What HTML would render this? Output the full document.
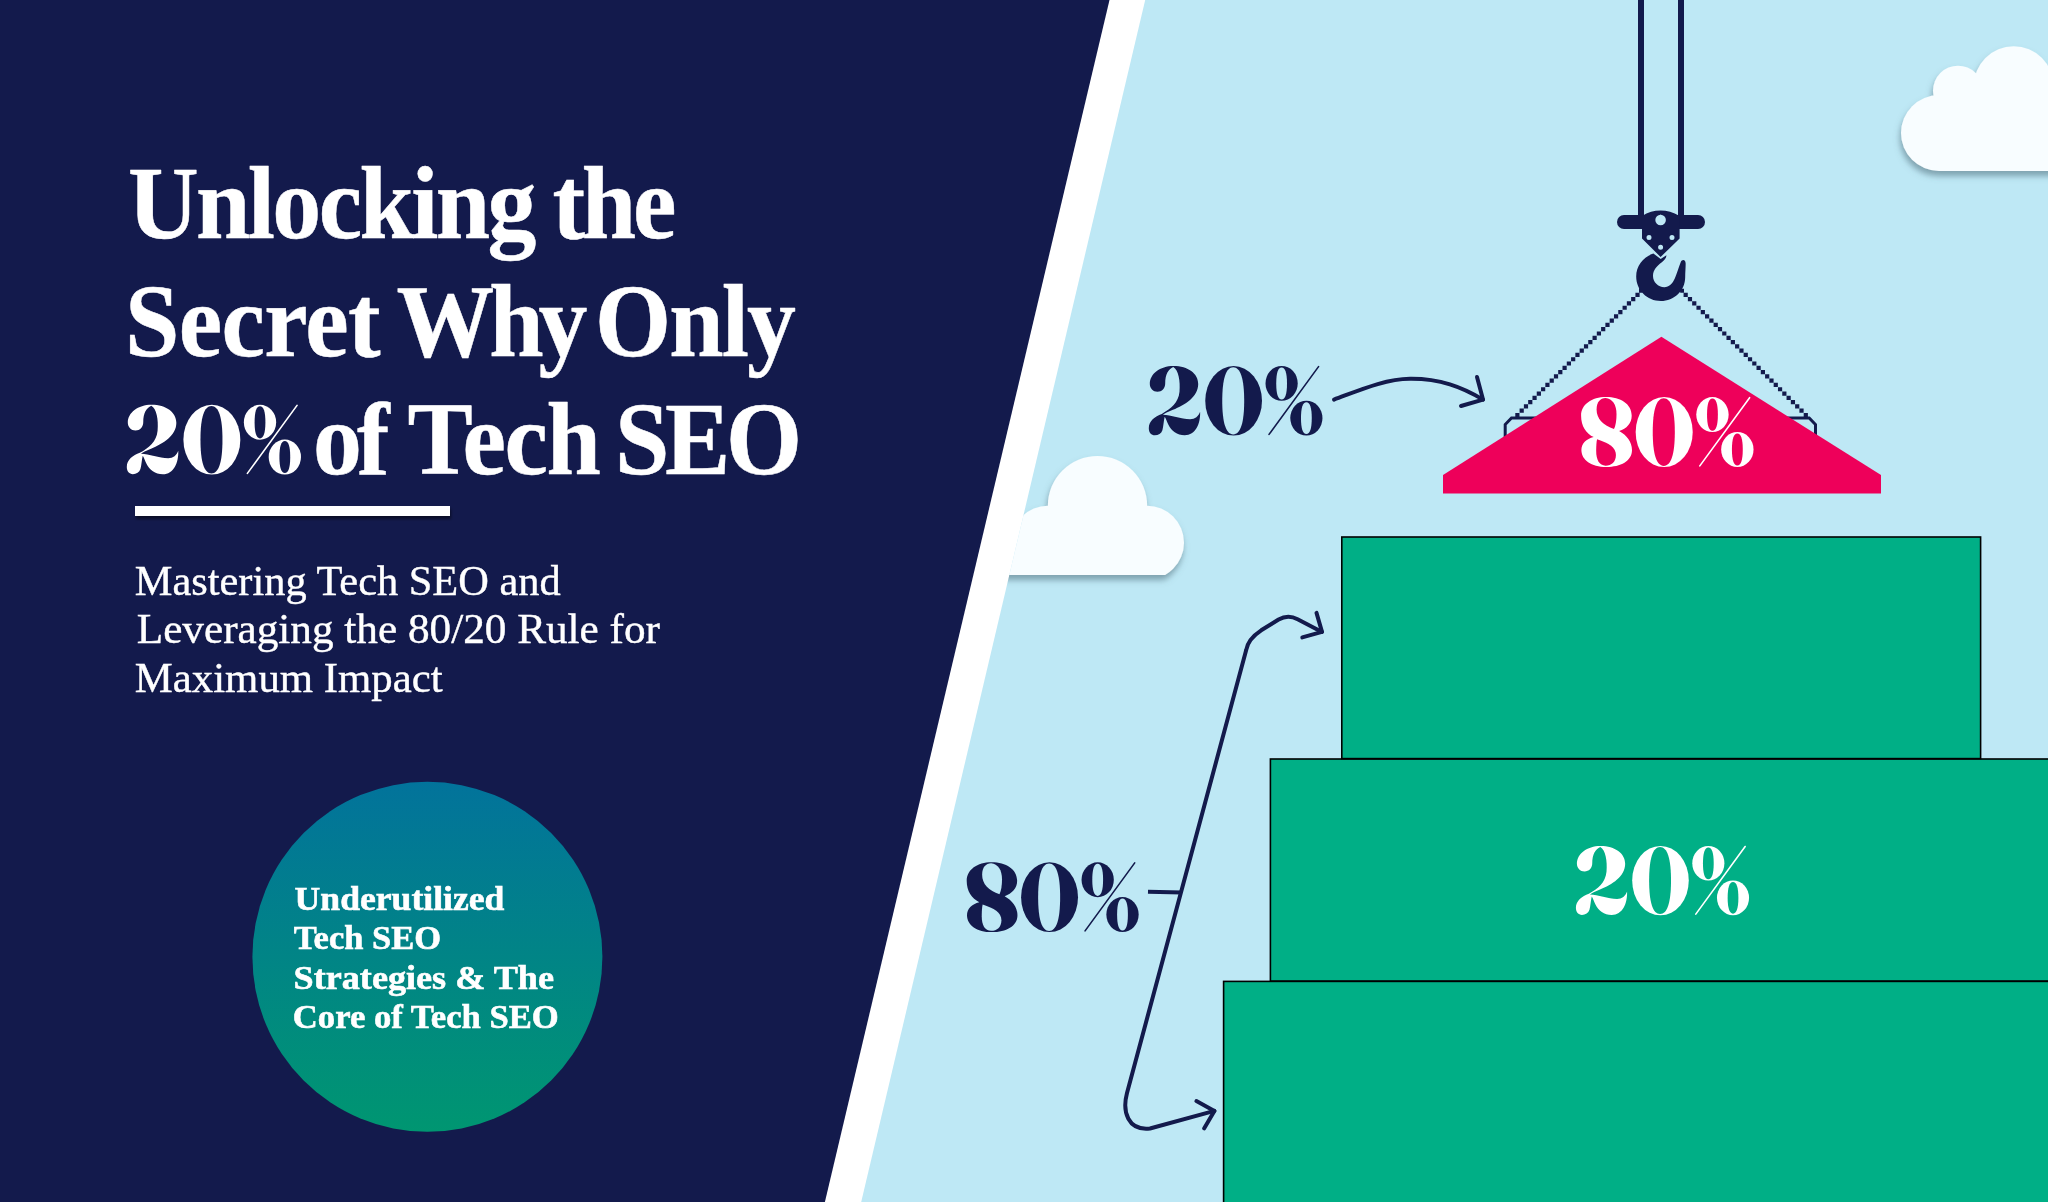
<!DOCTYPE html>
<html>
<head>
<meta charset="utf-8">
<style>
html,body{margin:0;padding:0;width:2048px;height:1202px;overflow:hidden;background:#131a4c;}
svg{display:block;position:absolute;left:0;top:0;will-change:transform;}
text{font-family:"Liberation Serif",serif;}
</style>
</head>
<body>
<svg width="2048" height="1202" viewBox="0 0 2048 1202">
  <defs>
    <linearGradient id="cg" x1="0" y1="0" x2="0" y2="1">
      <stop offset="0" stop-color="#02739b"/>
      <stop offset="1" stop-color="#009671"/>
    </linearGradient>
    <clipPath id="c1clip"><rect x="900" y="400" width="400" height="175"/></clipPath>
    <clipPath id="panel">
      <polygon points="1145.2,0 2048,0 2048,1202 861.2,1202"/>
    </clipPath>
    <filter id="csh" x="-20%" y="-20%" width="140%" height="150%">
      <feGaussianBlur in="SourceAlpha" stdDeviation="3"/>
      <feOffset dx="-1.5" dy="5" result="b"/>
      <feFlood flood-color="#4a6875" flood-opacity="0.55"/>
      <feComposite in2="b" operator="in"/>
      <feMerge><feMergeNode/><feMergeNode in="SourceGraphic"/></feMerge>
    </filter>
    <filter id="bsh" x="-10%" y="-100%" width="120%" height="400%">
      <feGaussianBlur in="SourceAlpha" stdDeviation="1.5"/>
      <feOffset dx="1" dy="3" result="b"/>
      <feFlood flood-color="#000" flood-opacity="0.5"/>
      <feComposite in2="b" operator="in"/>
      <feMerge><feMergeNode/><feMergeNode in="SourceGraphic"/></feMerge>
    </filter>
  </defs>

  <!-- background -->
  <rect x="0" y="0" width="2048" height="1202" fill="#131a4c"/>
  <polygon points="1109.5,0 2048,0 2048,1202 824.9,1202" fill="#ffffff"/>
  <polygon points="1145.2,0 2048,0 2048,1202 861.2,1202" fill="#bee8f5"/>

  <g clip-path="url(#panel)">
    <!-- cloud 1 -->
    <g filter="url(#csh)">
      <g clip-path="url(#c1clip)" fill="#f8fdff">
        <circle cx="1097.5" cy="505.5" r="49.6"/>
        <circle cx="1048" cy="542.7" r="37"/>
        <circle cx="1147" cy="542.7" r="37"/>
        <rect x="990" y="520" width="160" height="60"/>
      </g>
    </g>
    <!-- cloud 2 -->
    <g filter="url(#csh)" fill="#f8fdff">
      <circle cx="1939" cy="133" r="38"/>
      <circle cx="1958" cy="90.7" r="25"/>
      <circle cx="2013.7" cy="86.2" r="40"/>
      <rect x="1939" y="86" width="130" height="85"/>
    </g>
  </g>

  <!-- crane ropes -->
  <g fill="#131a4c">
    <rect x="1638" y="-5" width="6" height="225"/>
    <rect x="1678" y="-5" width="6" height="225"/>
    <rect x="1617" y="215" width="88" height="14" rx="7"/>
    <path fill-rule="evenodd" d="M1642,216 C1648,212 1654,210.4 1660.6,210.4 C1667,210.4 1673,212 1679.6,216 L1679.6,238.6 L1660.6,257 L1642,238.6 Z
      M1655.3,220 a5.3,5.3 0 1,0 10.6,0 a5.3,5.3 0 1,0 -10.6,0 Z
      M1646.5,237.5 a2.5,2.5 0 1,0 5,0 a2.5,2.5 0 1,0 -5,0 Z
      M1669.5,237.5 a2.5,2.5 0 1,0 5,0 a2.5,2.5 0 1,0 -5,0 Z
      M1658.1,247.2 a2.5,2.5 0 1,0 5,0 a2.5,2.5 0 1,0 -5,0 Z"/>
    <circle cx="1660.6" cy="220" r="5.3" fill="#bee8f5"/>
    <!-- hook -->
    <path d="M1653.4,253.5 C1643,257 1636.2,266 1636.2,276.5 C1636.2,290 1647,301 1660.9,301 C1674,301 1685.2,291 1685.2,277 C1685.2,272 1685.8,266 1685.6,263 C1685.4,259.5 1682,259 1680.6,262.5 C1678.5,268 1677,273 1675,278 C1672.5,284 1669,287.2 1664.4,287.2 C1658,287.2 1653,282 1653,276 C1653,270 1657,266 1661.5,262.5 C1664,260.5 1666.6,258 1666.4,255.2 L1660.7,259 Z M1639,288.4 v4.3 h4 v-4.3 z M1680.2,288.7 v4 h3.8 v-4 z"/>
  </g>
  <!-- sling dotted -->
  <g stroke="#131a4c" stroke-width="3" fill="none">
    <path fill="#131a4c" stroke="none" d="M1515.30,412.90h4.2v4.2h-4.2zM1803.70,412.90h4.2v4.2h-4.2zM1519.59,408.61h4.2v4.2h-4.2zM1799.41,408.61h4.2v4.2h-4.2zM1523.88,404.32h4.2v4.2h-4.2zM1795.12,404.32h4.2v4.2h-4.2zM1528.17,400.03h4.2v4.2h-4.2zM1790.83,400.03h4.2v4.2h-4.2zM1532.46,395.74h4.2v4.2h-4.2zM1786.54,395.74h4.2v4.2h-4.2zM1536.75,391.45h4.2v4.2h-4.2zM1782.25,391.45h4.2v4.2h-4.2zM1541.04,387.16h4.2v4.2h-4.2zM1777.96,387.16h4.2v4.2h-4.2zM1545.33,382.87h4.2v4.2h-4.2zM1773.67,382.87h4.2v4.2h-4.2zM1549.62,378.58h4.2v4.2h-4.2zM1769.38,378.58h4.2v4.2h-4.2zM1553.91,374.29h4.2v4.2h-4.2zM1765.09,374.29h4.2v4.2h-4.2zM1558.20,370.00h4.2v4.2h-4.2zM1760.80,370.00h4.2v4.2h-4.2zM1562.49,365.71h4.2v4.2h-4.2zM1756.51,365.71h4.2v4.2h-4.2zM1566.78,361.42h4.2v4.2h-4.2zM1752.22,361.42h4.2v4.2h-4.2zM1571.07,357.13h4.2v4.2h-4.2zM1747.93,357.13h4.2v4.2h-4.2zM1575.36,352.84h4.2v4.2h-4.2zM1743.64,352.84h4.2v4.2h-4.2zM1579.65,348.55h4.2v4.2h-4.2zM1739.35,348.55h4.2v4.2h-4.2zM1583.94,344.26h4.2v4.2h-4.2zM1735.06,344.26h4.2v4.2h-4.2zM1588.23,339.97h4.2v4.2h-4.2zM1730.77,339.97h4.2v4.2h-4.2zM1592.52,335.68h4.2v4.2h-4.2zM1726.48,335.68h4.2v4.2h-4.2zM1596.81,331.39h4.2v4.2h-4.2zM1722.19,331.39h4.2v4.2h-4.2zM1601.10,327.10h4.2v4.2h-4.2zM1717.90,327.10h4.2v4.2h-4.2zM1605.39,322.81h4.2v4.2h-4.2zM1713.61,322.81h4.2v4.2h-4.2zM1609.68,318.52h4.2v4.2h-4.2zM1709.32,318.52h4.2v4.2h-4.2zM1613.97,314.23h4.2v4.2h-4.2zM1705.03,314.23h4.2v4.2h-4.2zM1618.26,309.94h4.2v4.2h-4.2zM1700.74,309.94h4.2v4.2h-4.2zM1622.55,305.65h4.2v4.2h-4.2zM1696.45,305.65h4.2v4.2h-4.2zM1626.84,301.36h4.2v4.2h-4.2zM1692.16,301.36h4.2v4.2h-4.2zM1631.13,297.07h4.2v4.2h-4.2zM1687.87,297.07h4.2v4.2h-4.2zM1635.42,292.78h4.2v4.2h-4.2zM1683.58,292.78h4.2v4.2h-4.2z"/>
    
    <path d="M1505.2,438 L1505.2,424.5 L1511.5,418 L1540,418"/>
    <path d="M1815.5,438 L1815.5,424.5 L1809.2,418 L1780,418"/>
  </g>
  <!-- pink triangle -->
  <polygon points="1443,493.5 1443,475 1661.4,336.8 1881,475 1881,493.5" fill="#ee005a"/>
  <!--N1--><g transform="translate(1581.10,397.10) scale(1.0120,1.0000)"><path d="M24.6,0 C39,0 50,7 50,18.6 C50,26 45,31.5 37.6,34 C45,38 50.3,45 50.3,53 C50.3,64 39,70 25,70 C10,70 0.3,63 0.3,53 C0.3,46.5 5,42 12.5,40 C5,36.5 0,29 0,18.6 C0,7.5 10.5,0 24.6,0 Z" fill="#ffffff"/><path d="M24.2,1 C31,1.5 35,8 35,17 C35,24 34,29 32.5,32 C22,28.5 15.3,22 15.3,12.5 C15.3,5 19,1 24.2,1 Z" fill="#ee005a"/><path d="M15.8,42.2 C27,46 34.4,50 34.4,58 C34.4,65 30,68.6 24.2,68.6 C18,68.6 14.9,63 14.9,54 C14.9,49 15.2,45 15.8,42.2 Z" fill="#ee005a"/><g transform="translate(53.9,0)"><ellipse cx="28.2" cy="35" rx="28.2" ry="35" fill="#ffffff"/><path d="M27.80,1.20 C34.99,1.20 38.70,12.69 38.70,35.00 C38.70,57.31 34.99,68.80 27.80,68.80 C20.61,68.80 16.90,57.31 16.90,35.00 C16.90,12.69 20.61,1.20 27.80,1.20 Z" fill="#ee005a"/><ellipse cx="75.9" cy="17.5" rx="16" ry="17.5" fill="#ffffff"/><path d="M75.90,1.50 C79.43,1.50 81.25,6.97 81.25,17.60 C81.25,28.23 79.43,33.70 75.90,33.70 C72.37,33.70 70.55,28.23 70.55,17.60 C70.55,6.97 72.37,1.50 75.90,1.50 Z" fill="#ee005a"/><ellipse cx="100.5" cy="52.4" rx="16" ry="17.5" fill="#ffffff"/><path d="M100.50,36.40 C104.03,36.40 105.85,41.84 105.85,52.40 C105.85,62.96 104.03,68.40 100.50,68.40 C96.97,68.40 95.15,62.96 95.15,52.40 C95.15,41.84 96.97,36.40 100.50,36.40 Z" fill="#ee005a"/><line x1="112.6" y1="0.6" x2="63.4" y2="68.8" stroke="#ee005a" stroke-width="4"/><line x1="112.6" y1="0.6" x2="63.4" y2="68.8" stroke="#ffffff" stroke-width="1.6" stroke-linecap="round"/></g></g>

  <!-- 20% label + arrow -->
  <!--N2--><g transform="translate(1148.80,366.00) scale(1.0062,0.9943)"><path d="M8.6,25.8 C4.3,25.8 1,22.3 1,18 C1,8 11,0 24.5,0 C39,0 49.1,7.5 49.1,18 C49.1,31 36,39 24,44 C19,46.3 15.5,47.5 14,49 C22,49 32,53.5 41,53.5 C46,53.5 49.5,50.5 51,46 C51.5,58 46.5,69.6 35.7,69.6 C28,69.6 22.5,65 19.5,59 C18,56 17,52.5 15.8,51 C14.8,55 14.5,61 13.5,64.5 C12.5,68 9.5,69.6 6,69.6 C2.5,69.6 0,67 0,62.5 C0,55 6,51 12.9,48.2 C22,43 29.5,37 30.5,26 C31.5,15 29.5,4 24.3,1 C19.5,3 16.3,8.5 16.3,17.5 C16.3,22.3 13,25.8 8.6,25.8 Z" fill="#131a4c"/><g transform="translate(56.1,0)"><ellipse cx="28.2" cy="35" rx="28.2" ry="35" fill="#131a4c"/><path d="M27.80,1.20 C34.99,1.20 38.70,12.69 38.70,35.00 C38.70,57.31 34.99,68.80 27.80,68.80 C20.61,68.80 16.90,57.31 16.90,35.00 C16.90,12.69 20.61,1.20 27.80,1.20 Z" fill="#bee8f5"/><ellipse cx="75.9" cy="17.5" rx="16" ry="17.5" fill="#131a4c"/><path d="M75.90,1.50 C79.43,1.50 81.25,6.97 81.25,17.60 C81.25,28.23 79.43,33.70 75.90,33.70 C72.37,33.70 70.55,28.23 70.55,17.60 C70.55,6.97 72.37,1.50 75.90,1.50 Z" fill="#bee8f5"/><ellipse cx="100.5" cy="52.4" rx="16" ry="17.5" fill="#131a4c"/><path d="M100.50,36.40 C104.03,36.40 105.85,41.84 105.85,52.40 C105.85,62.96 104.03,68.40 100.50,68.40 C96.97,68.40 95.15,62.96 95.15,52.40 C95.15,41.84 96.97,36.40 100.50,36.40 Z" fill="#bee8f5"/><line x1="112.6" y1="0.6" x2="63.4" y2="68.8" stroke="#bee8f5" stroke-width="4"/><line x1="112.6" y1="0.6" x2="63.4" y2="68.8" stroke="#131a4c" stroke-width="1.6" stroke-linecap="round"/></g></g>
  <g stroke="#131a4c" stroke-width="4" fill="none" stroke-linecap="round" stroke-linejoin="round">
    <path d="M1334,399.6 C1360,390 1385,379 1410,378.8 C1440,378.5 1462,387 1483,399.6"/>
    <path d="M1477,377 L1483,399.6 L1461,406"/>
  </g>

  <!-- green boxes -->
  <g fill="#00af86" stroke="#000000" stroke-width="1.6">
    <rect x="1223.6" y="981.4" width="900" height="300"/>
    <rect x="1270.4" y="759" width="900" height="222"/>
    <rect x="1341.8" y="537" width="638.8" height="221.6"/>
  </g>
  <!--N3--><g transform="translate(1575.90,845.90) scale(1.0033,0.9914)"><path d="M8.6,25.8 C4.3,25.8 1,22.3 1,18 C1,8 11,0 24.5,0 C39,0 49.1,7.5 49.1,18 C49.1,31 36,39 24,44 C19,46.3 15.5,47.5 14,49 C22,49 32,53.5 41,53.5 C46,53.5 49.5,50.5 51,46 C51.5,58 46.5,69.6 35.7,69.6 C28,69.6 22.5,65 19.5,59 C18,56 17,52.5 15.8,51 C14.8,55 14.5,61 13.5,64.5 C12.5,68 9.5,69.6 6,69.6 C2.5,69.6 0,67 0,62.5 C0,55 6,51 12.9,48.2 C22,43 29.5,37 30.5,26 C31.5,15 29.5,4 24.3,1 C19.5,3 16.3,8.5 16.3,17.5 C16.3,22.3 13,25.8 8.6,25.8 Z" fill="#ffffff"/><g transform="translate(56.1,0)"><ellipse cx="28.2" cy="35" rx="28.2" ry="35" fill="#ffffff"/><path d="M27.80,1.20 C34.99,1.20 38.70,12.69 38.70,35.00 C38.70,57.31 34.99,68.80 27.80,68.80 C20.61,68.80 16.90,57.31 16.90,35.00 C16.90,12.69 20.61,1.20 27.80,1.20 Z" fill="#00af86"/><ellipse cx="75.9" cy="17.5" rx="16" ry="17.5" fill="#ffffff"/><path d="M75.90,1.50 C79.43,1.50 81.25,6.97 81.25,17.60 C81.25,28.23 79.43,33.70 75.90,33.70 C72.37,33.70 70.55,28.23 70.55,17.60 C70.55,6.97 72.37,1.50 75.90,1.50 Z" fill="#00af86"/><ellipse cx="100.5" cy="52.4" rx="16" ry="17.5" fill="#ffffff"/><path d="M100.50,36.40 C104.03,36.40 105.85,41.84 105.85,52.40 C105.85,62.96 104.03,68.40 100.50,68.40 C96.97,68.40 95.15,62.96 95.15,52.40 C95.15,41.84 96.97,36.40 100.50,36.40 Z" fill="#00af86"/><line x1="112.6" y1="0.6" x2="63.4" y2="68.8" stroke="#00af86" stroke-width="4"/><line x1="112.6" y1="0.6" x2="63.4" y2="68.8" stroke="#ffffff" stroke-width="1.6" stroke-linecap="round"/></g></g>

  <!-- 80% label + bracket arrow -->
  <!--N4--><g transform="translate(966.70,862.30) scale(1.0091,0.9971)"><path d="M24.6,0 C39,0 50,7 50,18.6 C50,26 45,31.5 37.6,34 C45,38 50.3,45 50.3,53 C50.3,64 39,70 25,70 C10,70 0.3,63 0.3,53 C0.3,46.5 5,42 12.5,40 C5,36.5 0,29 0,18.6 C0,7.5 10.5,0 24.6,0 Z" fill="#131a4c"/><path d="M24.2,1 C31,1.5 35,8 35,17 C35,24 34,29 32.5,32 C22,28.5 15.3,22 15.3,12.5 C15.3,5 19,1 24.2,1 Z" fill="#bee8f5"/><path d="M15.8,42.2 C27,46 34.4,50 34.4,58 C34.4,65 30,68.6 24.2,68.6 C18,68.6 14.9,63 14.9,54 C14.9,49 15.2,45 15.8,42.2 Z" fill="#bee8f5"/><g transform="translate(53.9,0)"><ellipse cx="28.2" cy="35" rx="28.2" ry="35" fill="#131a4c"/><path d="M27.80,1.20 C34.99,1.20 38.70,12.69 38.70,35.00 C38.70,57.31 34.99,68.80 27.80,68.80 C20.61,68.80 16.90,57.31 16.90,35.00 C16.90,12.69 20.61,1.20 27.80,1.20 Z" fill="#bee8f5"/><ellipse cx="75.9" cy="17.5" rx="16" ry="17.5" fill="#131a4c"/><path d="M75.90,1.50 C79.43,1.50 81.25,6.97 81.25,17.60 C81.25,28.23 79.43,33.70 75.90,33.70 C72.37,33.70 70.55,28.23 70.55,17.60 C70.55,6.97 72.37,1.50 75.90,1.50 Z" fill="#bee8f5"/><ellipse cx="100.5" cy="52.4" rx="16" ry="17.5" fill="#131a4c"/><path d="M100.50,36.40 C104.03,36.40 105.85,41.84 105.85,52.40 C105.85,62.96 104.03,68.40 100.50,68.40 C96.97,68.40 95.15,62.96 95.15,52.40 C95.15,41.84 96.97,36.40 100.50,36.40 Z" fill="#bee8f5"/><line x1="112.6" y1="0.6" x2="63.4" y2="68.8" stroke="#bee8f5" stroke-width="4"/><line x1="112.6" y1="0.6" x2="63.4" y2="68.8" stroke="#131a4c" stroke-width="1.6" stroke-linecap="round"/></g></g>
  <g stroke="#131a4c" stroke-width="4" fill="none" stroke-linecap="round" stroke-linejoin="round">
    <path d="M1148,891.8 L1182,892.5" stroke-linecap="butt"/>
    <path d="M1322,631.9 L1297.6,619.2 Q1288,614 1278.6,619.5 L1261.2,630.3 Q1248,639 1246.2,650 L1127,1093 C1122,1112 1128,1131 1150,1128.5 L1214.4,1110.9"/>
    <path d="M1316.5,612.9 L1322,631.9 L1302.3,637.4"/>
    <path d="M1196.4,1101.1 L1214.4,1110.9 L1204.1,1128.4"/>
  </g>

  <!-- title -->
  <g fill="#ffffff" font-weight="bold" font-size="103" stroke="#ffffff" stroke-width="0.5" stroke-linejoin="round">
    <g transform="translate(128.0,238) scale(0.95,1)"><text x="0" y="0" textLength="430.0" lengthAdjust="spacing">Unlocking</text></g>
    <g transform="translate(552.5,238) scale(0.95,1)"><text x="0" y="0" textLength="130.53" lengthAdjust="spacing">the</text></g>
    <g transform="translate(125.0,356) scale(0.95,1)"><text x="0" y="0" textLength="268.95" lengthAdjust="spacing">Secret</text></g>
    <g transform="translate(396.5,356) scale(0.95,1)"><text x="0" y="0" textLength="201.05" lengthAdjust="spacing">Why</text></g>
    <g transform="translate(595.0,356) scale(0.95,1)"><text x="0" y="0" textLength="211.58" lengthAdjust="spacing">Only</text></g>
    <g transform="translate(313.0,474) scale(0.95,1)"><text x="0" y="0" textLength="80.51" lengthAdjust="spacing">of</text></g>
    <g transform="translate(407.5,474) scale(0.95,1)"><text x="0" y="0" textLength="203.7" lengthAdjust="spacing">Tech</text></g>
    <g transform="translate(615.0,474) scale(0.95,1)"><text x="0" y="0" textLength="196.84" lengthAdjust="spacing">SEO</text></g>
    <g stroke="none" transform="translate(126.80,404.80) scale(1.0091,0.9971)"><path d="M8.6,25.8 C4.3,25.8 1,22.3 1,18 C1,8 11,0 24.5,0 C39,0 49.1,7.5 49.1,18 C49.1,31 36,39 24,44 C19,46.3 15.5,47.5 14,49 C22,49 32,53.5 41,53.5 C46,53.5 49.5,50.5 51,46 C51.5,58 46.5,69.6 35.7,69.6 C28,69.6 22.5,65 19.5,59 C18,56 17,52.5 15.8,51 C14.8,55 14.5,61 13.5,64.5 C12.5,68 9.5,69.6 6,69.6 C2.5,69.6 0,67 0,62.5 C0,55 6,51 12.9,48.2 C22,43 29.5,37 30.5,26 C31.5,15 29.5,4 24.3,1 C19.5,3 16.3,8.5 16.3,17.5 C16.3,22.3 13,25.8 8.6,25.8 Z" fill="#ffffff"/><g transform="translate(56.1,0)"><ellipse cx="28.2" cy="35" rx="28.2" ry="35" fill="#ffffff"/><path d="M27.80,1.20 C34.99,1.20 38.70,12.69 38.70,35.00 C38.70,57.31 34.99,68.80 27.80,68.80 C20.61,68.80 16.90,57.31 16.90,35.00 C16.90,12.69 20.61,1.20 27.80,1.20 Z" fill="#131a4c"/><ellipse cx="75.9" cy="17.5" rx="16" ry="17.5" fill="#ffffff"/><path d="M75.90,1.50 C79.43,1.50 81.25,6.97 81.25,17.60 C81.25,28.23 79.43,33.70 75.90,33.70 C72.37,33.70 70.55,28.23 70.55,17.60 C70.55,6.97 72.37,1.50 75.90,1.50 Z" fill="#131a4c"/><ellipse cx="100.5" cy="52.4" rx="16" ry="17.5" fill="#ffffff"/><path d="M100.50,36.40 C104.03,36.40 105.85,41.84 105.85,52.40 C105.85,62.96 104.03,68.40 100.50,68.40 C96.97,68.40 95.15,62.96 95.15,52.40 C95.15,41.84 96.97,36.40 100.50,36.40 Z" fill="#131a4c"/><line x1="112.6" y1="0.6" x2="63.4" y2="68.8" stroke="#131a4c" stroke-width="4"/><line x1="112.6" y1="0.6" x2="63.4" y2="68.8" stroke="#ffffff" stroke-width="1.6" stroke-linecap="round"/></g></g>
  </g>
  <rect x="135" y="506" width="315" height="10" fill="#ffffff" filter="url(#bsh)"/>

  <!-- subtitle -->
  <g fill="#ffffff" font-size="42" stroke="#ffffff" stroke-width="0.4">
    <text x="134.8" y="595" textLength="425.8" lengthAdjust="spacingAndGlyphs">Mastering Tech SEO and</text>
    <text x="136.8" y="643.3" textLength="523.2" lengthAdjust="spacingAndGlyphs">Leveraging the 80/20 Rule for</text>
    <text x="134.8" y="691.6" textLength="307.8" lengthAdjust="spacingAndGlyphs">Maximum Impact</text>
  </g>

  <!-- circle -->
  <circle cx="427.4" cy="956.8" r="175" fill="url(#cg)"/>
  <g fill="#ffffff" font-weight="bold" font-size="34.5" stroke="#ffffff" stroke-width="0.6">
    <text x="294.6" y="910.4" textLength="209.8" lengthAdjust="spacingAndGlyphs">Underutilized</text>
    <text x="293.8" y="949.3" textLength="147.2" lengthAdjust="spacingAndGlyphs">Tech SEO</text>
    <text x="293.6" y="989" textLength="260.4" lengthAdjust="spacingAndGlyphs">Strategies &amp; The</text>
    <text x="292.8" y="1027.9" textLength="266" lengthAdjust="spacingAndGlyphs">Core of Tech SEO</text>
  </g>
</svg>
</body>
</html>
